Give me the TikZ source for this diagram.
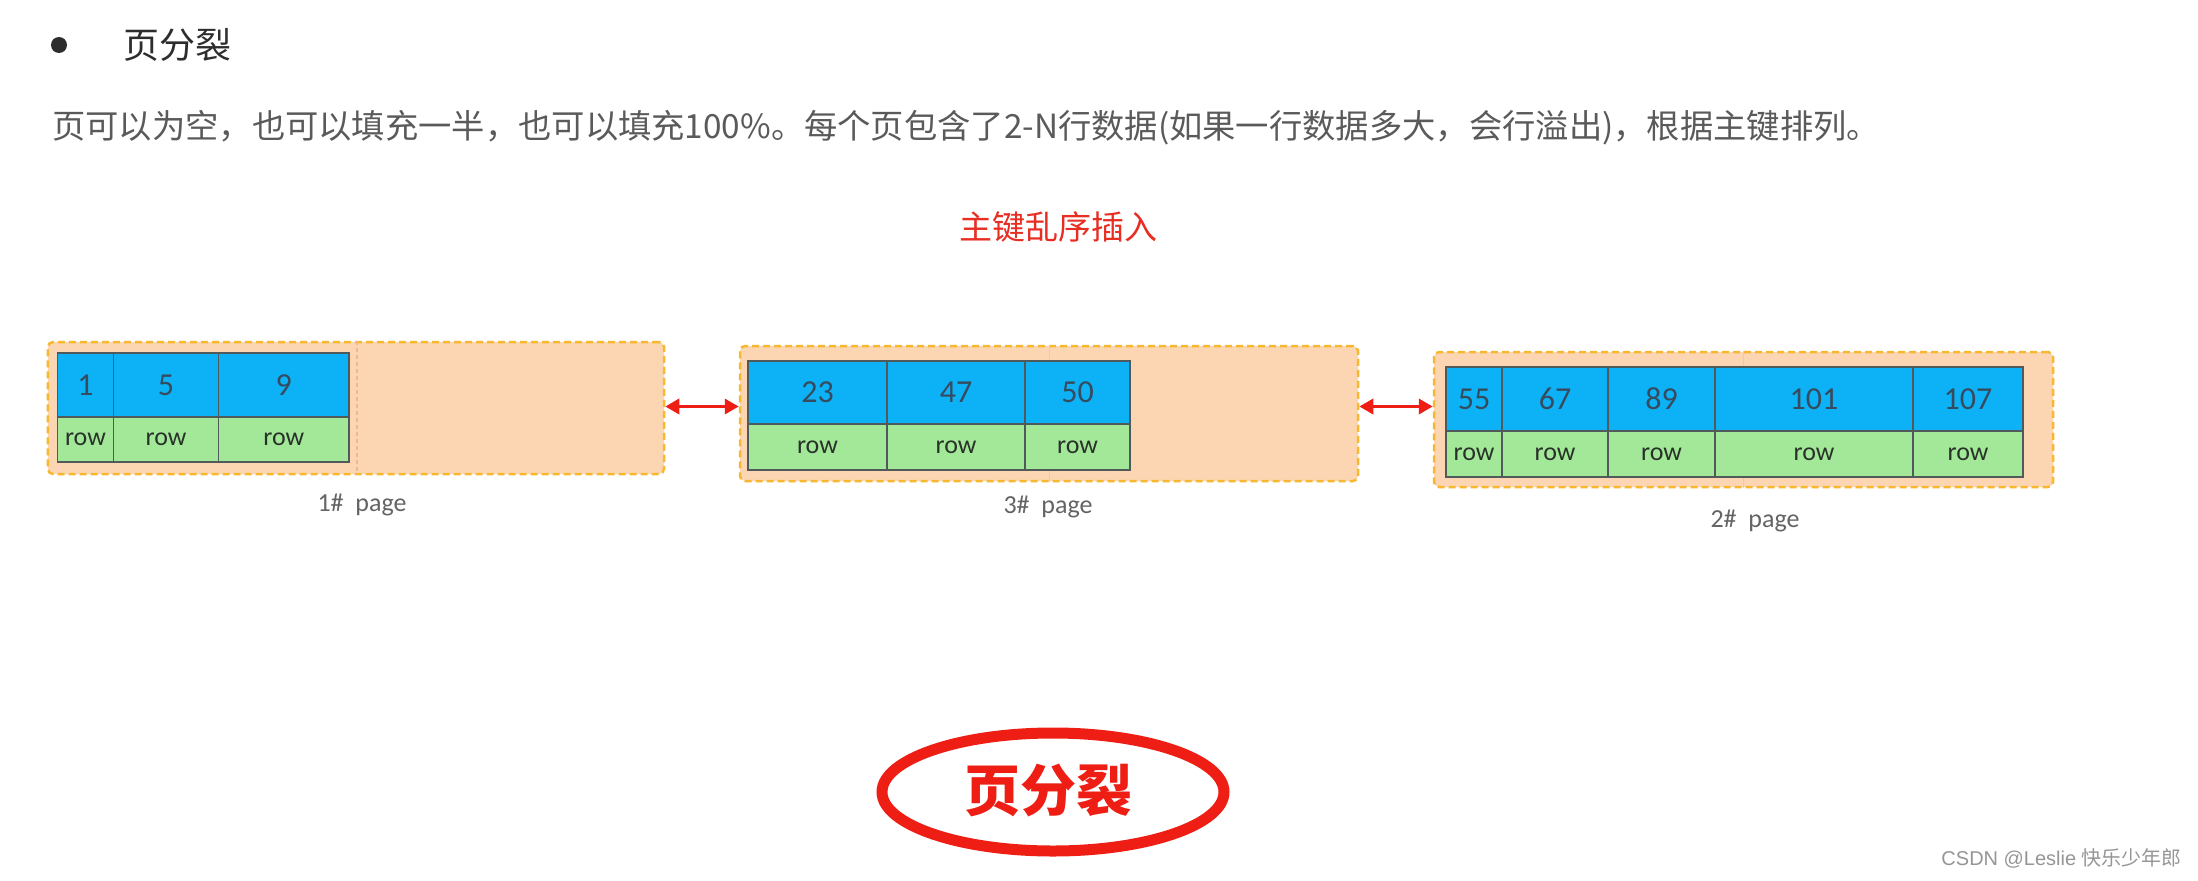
\documentclass[tikz,border=0pt]{standalone}
\usepackage{fontspec}
\setmainfont{Carlito}
\newfontfamily\cjk{Noto Sans CJK SC}
\newfontfamily\arialf{Liberation Sans}
\usetikzlibrary{arrows.meta,shapes.geometric}
\definecolor{cellblue}{RGB}{12,178,245}
\definecolor{cellgreen}{RGB}{163,232,153}
\definecolor{pagefill}{RGB}{252,214,178}
\definecolor{pageborder}{RGB}{247,184,48}
\definecolor{divc}{RGB}{240,185,140}
\definecolor{faintdiv}{RGB}{246,200,160}
\definecolor{redc}{RGB}{238,30,20}
\definecolor{titlered}{RGB}{232,45,35}
\definecolor{numc}{RGB}{55,75,95}
\definecolor{rowc}{RGB}{40,50,40}
\definecolor{gridc}{RGB}{80,90,90}
\definecolor{headc}{RGB}{45,45,45}
\definecolor{textc}{RGB}{90,90,90}
\definecolor{labelc}{RGB}{100,100,100}
\definecolor{wmc}{RGB}{150,150,150}
\tikzset{
  pagebox/.style={draw=pageborder, fill=pagefill, line width=2.5bp, dash pattern=on 7bp off 4bp, rounded corners=5bp, inner sep=0pt},
  keycell/.style={draw=gridc, fill=cellblue, line width=1.4bp, inner sep=0pt, minimum height=#1, text=numc, font=\fontsize{32bp}{36bp}\selectfont},
  rowcell/.style={draw=gridc, fill=cellgreen, line width=1.4bp, inner sep=0pt, minimum height=#1, text=rowc, font=\fontsize{26bp}{30bp}\selectfont},
  pagelabel/.style={text=labelc, font=\fontsize{26bp}{30bp}\selectfont},
  divider/.style={draw=divc, line width=1.2bp, dash pattern=on 4bp off 3bp},
  faintdivider/.style={draw=faintdiv, line width=1bp},
  redarrow/.style={draw=redc, line width=3.5bp, {Triangle[length=14bp,width=15bp]}-{Triangle[length=14bp,width=15bp]}},
}
\begin{document}
\begin{tikzpicture}[x=1bp,y=-1bp]
\useasboundingbox[fill=white] (0,0) rectangle (2198,880);

% header
\node[circle, fill=headc, minimum size=16bp, inner sep=0pt] (bullet) at (59,45) {};
\node[anchor=west, text=headc, inner sep=0pt, font=\cjk\fontsize{36bp}{40bp}\selectfont] (head) at (123,45) {页分裂};
\node[anchor=west, text=textc, inner sep=0pt, font=\cjk\fontsize{33.3bp}{38bp}\selectfont] (desc) at (52,128) {页可以为空，也可以填充一半，也可以填充100\%。每个页包含了2-N行数据(如果一行数据多大，会行溢出)，根据主键排列。};
\node[text=titlered, inner sep=0pt, font=\cjk\fontsize{33bp}{38bp}\selectfont] (title) at (1058,227) {主键乱序插入};

% page 1
\node[pagebox, minimum width=616bp, minimum height=132bp] (p1) at (356,408) {};
\draw[divider] ([xshift=8bp]p1.north -| 349,0) -- ([xshift=8bp]p1.south -| 349,0);
\node[keycell=64bp, minimum width=56bp] (k11) at (85.5,385) {1};
\node[keycell=64bp, minimum width=105.2bp] (k12) at (166.1,385) {5};
\node[keycell=64bp, minimum width=130.3bp] (k13) at (283.85,385) {9};
\node[rowcell=45bp, minimum width=56bp] (r11) at (85.5,439.5) {row};
\node[rowcell=45bp, minimum width=105.2bp] (r12) at (166.1,439.5) {row};
\node[rowcell=45bp, minimum width=130.3bp] (r13) at (283.85,439.5) {row};
\node[pagelabel] (l1) at (362,505) {1\#\ \ page};

% page 3
\node[pagebox, minimum width=618bp, minimum height=135bp] (p3) at (1049,413.5) {};
\draw[faintdivider] (p3.north) -- (p3.south);
\node[keycell=63bp, minimum width=139bp] (k31) at (817.5,392.5) {23};
\node[keycell=63bp, minimum width=138bp] (k32) at (956,392.5) {47};
\node[keycell=63bp, minimum width=105bp] (k33) at (1077.5,392.5) {50};
\node[rowcell=46bp, minimum width=139bp] (r31) at (817.5,447) {row};
\node[rowcell=46bp, minimum width=138bp] (r32) at (956,447) {row};
\node[rowcell=46bp, minimum width=105bp] (r33) at (1077.5,447) {row};
\node[pagelabel] (l3) at (1048,507) {3\#\ \ page};

% page 2
\node[pagebox, minimum width=619bp, minimum height=135bp] (p2) at (1743.5,419.5) {};
\draw[faintdivider] (p2.north) -- (p2.south);
\node[keycell=64bp, minimum width=56bp] (k21) at (1474,399) {55};
\node[keycell=64bp, minimum width=106bp] (k22) at (1555,399) {67};
\node[keycell=64bp, minimum width=107bp] (k23) at (1661.5,399) {89};
\node[keycell=64bp, minimum width=198bp] (k24) at (1814,399) {101};
\node[keycell=64bp, minimum width=110bp] (k25) at (1968,399) {107};
\node[rowcell=46bp, minimum width=56bp] (r21) at (1474,454) {row};
\node[rowcell=46bp, minimum width=106bp] (r22) at (1555,454) {row};
\node[rowcell=46bp, minimum width=107bp] (r23) at (1661.5,454) {row};
\node[rowcell=46bp, minimum width=198bp] (r24) at (1814,454) {row};
\node[rowcell=46bp, minimum width=110bp] (r25) at (1968,454) {row};
\node[pagelabel] (l2) at (1755,521) {2\#\ \ page};

% links
\draw[redarrow] ([yshift=1.5bp]p1.east) -- ([yshift=1.5bp]p1.east -| p3.west);
\draw[redarrow] ([yshift=7bp]p3.east) -- ([yshift=7bp]p3.east -| p2.west);

% page split stamp
\node[ellipse, draw=redc, line width=11bp, minimum width=342bp, minimum height=118bp] (ell) at (1053,792) {};
\node[text=redc, inner sep=0pt, font=\cjk\bfseries\fontsize{56bp}{60bp}\selectfont] (split) at (1048,790) {页分裂};

% watermark
\node[anchor=east, text=wmc, inner sep=0pt, font=\fontsize{20bp}{24bp}\selectfont] (wm) at (2182,858) {\arialf CSDN @Leslie \cjk 快乐少年郎};
\end{tikzpicture}
\end{document}
